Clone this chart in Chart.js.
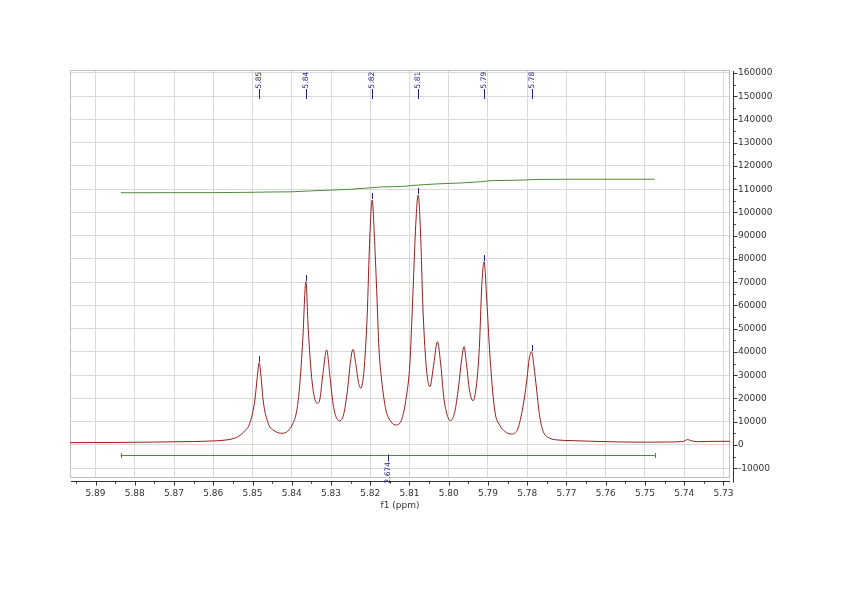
<!DOCTYPE html>
<html><head><meta charset="utf-8">
<script src="https://cdn.jsdelivr.net/npm/chart.js@4/dist/chart.umd.min.js"></script>
<style>html,body{margin:0;padding:0;background:#fff}</style>
</head><body>
<canvas id="c" width="842" height="595"></canvas>
<script>
// ---- spectrum (ppm ascending) ----
const specPpm = [
  5.7283, 5.7340, 5.7366, 5.7381, 5.7391, 5.7404, 5.7437, 5.7496, 5.7615, 5.7691,
  5.7721, 5.7742, 5.7759, 5.7768, 5.7776, 5.7783, 5.7789, 5.7795, 5.7801, 5.7811,
  5.7824, 5.7840, 5.7857, 5.7870, 5.7883, 5.7896, 5.7903, 5.7910, 5.7916, 5.7922,
  5.7930, 5.7938, 5.7947, 5.7955, 5.7961, 5.7967, 5.7975, 5.7985, 5.7996, 5.8005,
  5.8013, 5.8020, 5.8029, 5.8038, 5.8048, 5.8058, 5.8066, 5.8072, 5.8078, 5.8084,
  5.8092, 5.8099, 5.8108, 5.8119, 5.8133, 5.8147, 5.8160, 5.8171, 5.8178, 5.8183,
  5.8189, 5.8195, 5.8201, 5.8208, 5.8216, 5.8224, 5.8230, 5.8237, 5.8244, 5.8251,
  5.8257, 5.8268, 5.8278, 5.8288, 5.8295, 5.8303, 5.8311, 5.8321, 5.8328, 5.8335,
  5.8344, 5.8351, 5.8358, 5.8364, 5.8372, 5.8380, 5.8387, 5.8397, 5.8410, 5.8426,
  5.8443, 5.8460, 5.8473, 5.8478, 5.8483, 5.8488, 5.8494, 5.8507, 5.8520, 5.8535,
  5.8550, 5.8570, 5.8600, 5.8650, 5.8750, 5.8850, 5.8965
];
const specIntensity = [
  1600, 1550, 1400, 1800, 2300, 1500, 1300, 1200, 1500, 1900,
  2150, 2900, 5720, 12000, 23660, 34000, 40130, 37000, 28000, 16470,
  7000, 4730, 5800, 8500, 15050, 40860, 62000, 78840, 68000, 42000,
  25000, 19050, 23500, 35000, 42280, 37000, 25000, 14000, 10460, 13500,
  21000, 34000, 44430, 35000, 25080, 35000, 60000, 92000, 107530, 95000,
  62000, 35000, 20770, 11500, 8600, 10000, 15000, 27960, 42000, 63780,
  88000, 105380, 90000, 55000, 32000, 24390, 27000, 35000, 41150, 35000,
  25000, 13000, 10400, 12500, 18000, 30000, 40860, 30000, 20000, 17940,
  22000, 32260, 50000, 70240, 45000, 25080, 15000, 9330, 6000, 5030,
  6000, 9330, 19350, 29000, 35400, 29000, 19350, 9330, 6000, 3800,
  2700, 2100, 1750, 1500, 1250, 1100, 1000
];

// ---- integral curve ----
const integralPpm   = [5.7475, 5.7700, 5.7780, 5.7820, 5.7890, 5.7930, 5.7970, 5.8030, 5.8080, 5.8120, 5.8170, 5.8210, 5.8250, 5.8290, 5.8350, 5.8400, 5.8460, 5.8520, 5.8600, 5.8836];
const integralValue = [114300, 114300, 114200, 113900, 113700, 113100, 112700, 112300, 111800, 111200, 111000, 110500, 110000, 109700, 109300, 108900, 108800, 108650, 108550, 108500];
const integralRange = [5.8836, 5.7475];
const integralLevel = -4300;
const integralLabel = '2.674';

// ---- peak picking ----
const peakPpm    = [5.8483, 5.8364, 5.8195, 5.8078, 5.7910, 5.7789];
const peakHeight = [35400, 70240, 105380, 107530, 78840, 40130];
const peakLabels = ['5.85', '5.84', '5.82', '5.81', '5.79', '5.78'];

// ---- axes ----
const xRange = [5.72834, 5.8965];
const yRange = [-14194, 161290];
const xTicks = [5.89, 5.88, 5.87, 5.86, 5.85, 5.84, 5.83, 5.82, 5.81, 5.80, 5.79, 5.78, 5.77, 5.76, 5.75, 5.74, 5.73];
const yTicks = [160000, 150000, 140000, 130000, 120000, 110000, 100000, 90000, 80000, 70000, 60000, 50000, 40000, 30000, 20000, 10000, 0, -10000];
const xTitle = 'f1 (ppm)';

const NAVY = '#22228a';

const decor = {
  id: 'decor',
  beforeDatasetsDraw(chart) {
    const {ctx, chartArea: a} = chart;
    ctx.save();
    ctx.strokeStyle = '#c2c2c2';
    ctx.lineWidth = 1;
    ctx.strokeRect(a.left + 0.5, a.top + 0.5, a.right - a.left - 1, a.bottom - a.top - 1);
    ctx.restore();
  },
  afterDatasetsDraw(chart) {
    const {ctx, chartArea: a, scales: {x, y}} = chart;
    ctx.save();
    ctx.lineWidth = 1;
    const ax = Math.round(a.right) + 3.5;
    const ay = Math.round(a.bottom) + 3.5;
    const yStep = Math.abs(yTicks[0] - yTicks[1]);
    const xStep = Math.abs(xTicks[0] - xTicks[1]);
    ctx.strokeStyle = '#333';
    ctx.beginPath();
    ctx.moveTo(ax, a.top + 1); ctx.lineTo(ax, ay + 1);
    ctx.moveTo(a.left + 1, ay); ctx.lineTo(a.right, ay);
    yTicks.forEach(v => {
      const p = Math.round(y.getPixelForValue(v)) + 0.5;
      ctx.moveTo(ax, p); ctx.lineTo(ax + 4, p);
      [v + yStep / 2, v - yStep / 2].forEach(m => {
        if (m > y.min && m < y.max) {
          const pm = Math.round(y.getPixelForValue(m)) + 0.5;
          ctx.moveTo(ax, pm); ctx.lineTo(ax + 2, pm);
        }
      });
    });
    xTicks.forEach(v => {
      const p = Math.round(x.getPixelForValue(v)) + 0.5;
      ctx.moveTo(p, ay); ctx.lineTo(p, ay + 4);
      [v + xStep / 2, v - xStep / 2].forEach(m => {
        if (m > x.min && m < x.max) {
          const pm = Math.round(x.getPixelForValue(m)) + 0.5;
          ctx.moveTo(pm, ay); ctx.lineTo(pm, ay + 2);
        }
      });
    });
    ctx.stroke();

    // peak markers and labels
    ctx.strokeStyle = NAVY;
    ctx.fillStyle = NAVY;
    ctx.font = "7.5px 'DejaVu Sans'";
    peakPpm.forEach((p, i) => {
      const px = Math.round(x.getPixelForValue(p)) + 0.5;
      const py = Math.round(y.getPixelForValue(peakHeight[i]));
      ctx.beginPath();
      ctx.moveTo(px, py - 1); ctx.lineTo(px, py - 7);
      ctx.moveTo(px, a.top + 29); ctx.lineTo(px, a.top + 19);
      ctx.stroke();
      ctx.save();
      ctx.translate(px, a.top + 19);
      ctx.rotate(-Math.PI / 2);
      ctx.textAlign = 'left';
      ctx.textBaseline = 'middle';
      ctx.fillText(peakLabels[i], 0.5, 0);
      ctx.restore();
    });

    // integral bracket
    const y0 = Math.round(y.getPixelForValue(integralLevel)) + 0.5;
    const x1 = x.getPixelForValue(integralRange[0]);
    const x2 = x.getPixelForValue(integralRange[1]);
    const xc = Math.round(x.getPixelForValue((integralRange[0] + integralRange[1]) / 2)) + 0.5;
    ctx.strokeStyle = '#4f8a3c';
    ctx.beginPath();
    ctx.moveTo(x1, y0); ctx.lineTo(x2, y0);
    ctx.moveTo(Math.round(x1) + 0.5, y0 - 2.5); ctx.lineTo(Math.round(x1) + 0.5, y0 + 2.5);
    ctx.moveTo(Math.round(x2) + 0.5, y0 - 2.5); ctx.lineTo(Math.round(x2) + 0.5, y0 + 2.5);
    ctx.stroke();
    ctx.strokeStyle = NAVY;
    ctx.beginPath();
    ctx.moveTo(xc, y0 - 1); ctx.lineTo(xc, y0 + 6);
    ctx.stroke();
    ctx.save();
    ctx.translate(xc, y0 + 28);
    ctx.rotate(-Math.PI / 2);
    ctx.textAlign = 'left';
    ctx.textBaseline = 'middle';
    ctx.fillText(integralLabel, 0, 0);
    ctx.restore();
    ctx.restore();
  }
};

Chart.defaults.font.family = "'DejaVu Sans', sans-serif";
Chart.defaults.font.size = 9;
Chart.defaults.color = '#333';

new Chart(document.getElementById('c'), {
  type: 'line',
  data: {
    datasets: [
      {
        label: 'integral',
        data: integralPpm.map((p, i) => ({x: p, y: integralValue[i]})),
        borderColor: '#4f8a3c', borderWidth: 1, pointRadius: 0, tension: 0, order: 2
      },
      {
        label: 'spectrum',
        data: specPpm.map((p, i) => ({x: p, y: specIntensity[i]})),
        borderColor: '#9a1c1c', borderWidth: 1, pointRadius: 0,
        cubicInterpolationMode: 'monotone', order: 1
      }
    ]
  },
  options: {
    responsive: false,
    animation: false,
    events: [],
    layout: {padding: {left: 70, top: 70, right: 52, bottom: 77}},
    plugins: {legend: {display: false}, tooltip: {enabled: false}},
    scales: {
      x: {
        type: 'linear', reverse: true, min: xRange[0], max: xRange[1], bounds: 'ticks',
        afterBuildTicks: s => { s.ticks = xTicks.map(v => ({value: v})); },
        afterFit: s => { s.height = 40; },
        ticks: {autoSkip: false, maxRotation: 0, minRotation: 0, padding: 10,
                callback: v => Number(v).toFixed(2), color: '#333'},
        grid: {color: '#d9d9d9', drawTicks: false},
        border: {display: false},
        title: {display: true, text: xTitle, color: '#333', font: {size: 9}, padding: {top: 0, bottom: 7}}
      },
      y: {
        type: 'linear', position: 'right', min: yRange[0], max: yRange[1], bounds: 'ticks',
        afterBuildTicks: s => { s.ticks = yTicks.map(v => ({value: v})); },
        afterFit: s => { s.width = 60; },
        ticks: {autoSkip: false, padding: 8,
                callback: v => String(Math.round(v)), color: '#333'},
        grid: {color: '#d9d9d9', drawTicks: false},
        border: {display: false}
      }
    }
  },
  plugins: [decor]
});
</script>
</body></html>
